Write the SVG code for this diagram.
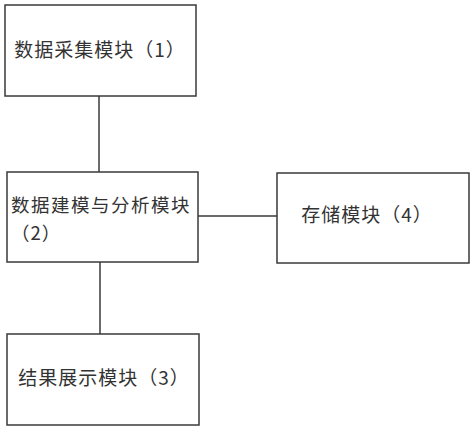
<svg xmlns="http://www.w3.org/2000/svg" width="474" height="431" viewBox="0 0 474 431">
<style>
.box{fill:#fff;stroke:#3a3a3a;stroke-width:1.5}
.lbl{font-family:"Noto Sans CJK SC","Noto Sans",sans-serif;font-size:19px;fill:#333;letter-spacing:1px}
.conn{stroke:#3a3a3a;stroke-width:1.5;fill:none}
</style>
<rect width="474" height="431" fill="#fff"/>
<g id="connectors">
<line class="conn" x1="99" y1="96" x2="99" y2="172"/>
<line class="conn" x1="198" y1="216" x2="277" y2="216"/>
<line class="conn" x1="100" y1="262" x2="100" y2="334"/>
</g>
<g id="node1">
<rect class="box" x="5" y="5" width="191" height="91"/>
<text class="lbl" x="100" y="57" text-anchor="middle">数据采集模块（1）</text>
</g>
<g id="node2">
<rect class="box" x="7" y="172" width="191" height="90"/>
<text class="lbl" x="11" y="212" style="font-size:18.5px;letter-spacing:1.5px">数据建模与分析模块</text>
<text class="lbl" x="11" y="240" style="font-size:18.5px">（2）</text>
</g>
<g id="node4">
<rect class="box" x="277" y="173" width="192" height="90"/>
<text class="lbl" x="367" y="222" text-anchor="middle">存储模块（4）</text>
</g>
<g id="node3">
<rect class="box" x="7" y="334" width="192" height="91"/>
<text class="lbl" x="104" y="385" text-anchor="middle">结果展示模块（3）</text>
</g>
</svg>
